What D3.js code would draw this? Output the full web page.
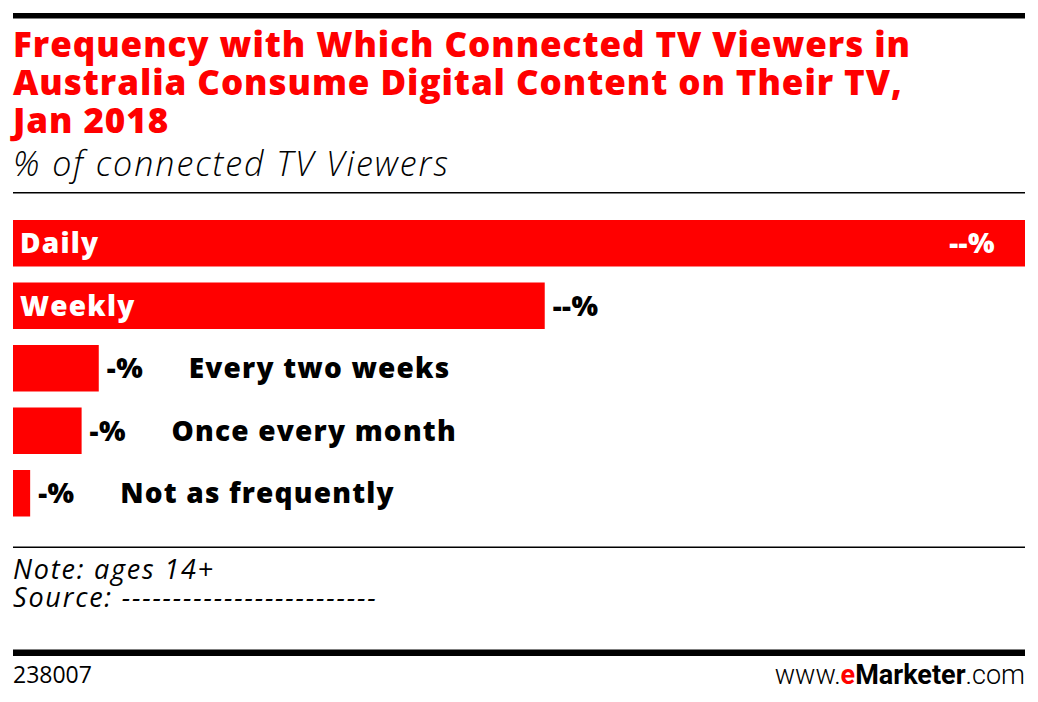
<!DOCTYPE html>
<html>
<head>
<meta charset="utf-8">
<script src="https://cdn.jsdelivr.net/npm/d3@7"></script>
<style>
  html, body { margin: 0; padding: 0; background: #fff; }
  svg { display: block; }
</style>
</head>
<body>
<script>
const titleLines = [
  "Frequency with Which Connected TV Viewers in",
  "Australia Consume Digital Content on Their TV,",
  "Jan 2018"
];
const subtitle = "% of connected TV Viewers";
const categories = ["Daily", "Weekly", "Every two weeks", "Once every month", "Not as frequently"];
const values = [59, 31, 5, 4, 1];
const valueLabels = ["--%", "--%", "-%", "-%", "-%"];
const noteText = "Note: ages 14+";
const sourceText = "Source: -------------------------";
const chartId = "238007";

const W = 1038, H = 702;
const L = 13, R = 1025;
const red = "#ff0000";

// letter spacing that makes the given texts span the wanted total width
function spacingFor(nodes, target) {
  let w = 0, gaps = 0;
  nodes.forEach(n => { w += n.getComputedTextLength(); gaps += n.textContent.length - 1; });
  return (target - w) / gaps;
}

const svg = d3.select("body").append("svg").attr("width", W).attr("height", H);

// top rule
svg.append("rect").attr("x", L).attr("y", 13).attr("width", R - L).attr("height", 5.5).attr("fill", "#000");

// title
const font = "'Open Sans', sans-serif";
const title = svg.append("g").attr("font-family", font).attr("font-weight", 800)
  .attr("font-size", 35).attr("fill", red);
const tl = title.selectAll("text").data(titleLines).join("text")
  .attr("x", L).attr("y", (d, i) => 57 + i * 38.2).text(d => d);
title.attr("letter-spacing", spacingFor([tl.nodes()[0]], 897));

const sub = svg.append("text").attr("x", L).attr("y", 175.5)
  .attr("font-family", font).attr("font-weight", 300).attr("font-style", "italic")
  .attr("font-size", 34).attr("fill", "#000").text(subtitle);
sub.attr("letter-spacing", spacingFor([sub.node()], 435));

svg.append("rect").attr("x", L).attr("y", 192).attr("width", R - L).attr("height", 1.5).attr("fill", "#000");

// bars
const x = d3.scaleLinear().domain([0, d3.max(values)]).range([L, R]);
const y = d3.scaleBand().domain(categories).range([220, 516.5]).paddingInner(0.256).paddingOuter(0);

const data = categories.map((c, i) => ({ c, v: values[i], lab: valueLabels[i], i }));
const g = svg.append("g");
g.selectAll("rect.bar").data(data).join("rect").attr("class", "bar")
  .attr("x", x(0)).attr("y", d => y(d.c)).attr("width", d => x(d.v) - x(0)).attr("height", y.bandwidth())
  .attr("fill", red);

const labFont = 28;
const inside = d => x(d.v) - x(0) > 300;
// category labels
const cats = g.append("g").attr("font-family", font).attr("font-weight", 800).attr("font-size", labFont);
const catText = cats.selectAll("text").data(data).join("text")
  .attr("x", d => inside(d) ? x(0) + 7 : x(d.v) + 90)
  .attr("y", d => y(d.c) + y.bandwidth() / 2 + 10)
  .attr("fill", d => inside(d) ? "#fff" : "#000").text(d => d.c);
cats.attr("letter-spacing", spacingFor(catText.nodes().slice(2), 818));
// value labels
const vals = g.append("g").attr("font-family", font).attr("font-weight", 800).attr("font-size", labFont)
  .attr("letter-spacing", 0.5);
vals.selectAll("text").data(data).join("text")
  .attr("x", d => d.i === 0 ? x(d.v) - 30 : x(d.v) + 8)
  .attr("text-anchor", d => d.i === 0 ? "end" : "start")
  .attr("y", d => y(d.c) + y.bandwidth() / 2 + 10)
  .attr("fill", d => d.i === 0 ? "#fff" : "#000").text(d => d.lab);

// footer
svg.append("rect").attr("x", L).attr("y", 546.5).attr("width", R - L).attr("height", 1.5).attr("fill", "#000");
const foot = svg.append("g").attr("font-family", font).attr("font-weight", 400)
  .attr("font-style", "italic").attr("font-size", 27).attr("fill", "#000");
const note = foot.append("text").attr("x", L).attr("y", 579).text(noteText);
foot.append("text").attr("x", L).attr("y", 607).text(sourceText);
foot.attr("letter-spacing", spacingFor([note.node()], 200));

svg.append("rect").attr("x", L).attr("y", 649.5).attr("width", R - L).attr("height", 6.5).attr("fill", "#000");
svg.append("text").attr("x", L).attr("y", 683).attr("font-family", font).attr("font-weight", 400)
  .attr("font-size", 23).attr("fill", "#000").text(chartId);

const logo = svg.append("text").attr("x", R).attr("y", 684).attr("text-anchor", "end")
  .attr("font-family", "Roboto, sans-serif").attr("font-size", 27).attr("fill", "#000");
logo.append("tspan").attr("font-weight", 300).text("www.");
logo.append("tspan").attr("font-weight", 700).attr("fill", red).text("e");
logo.append("tspan").attr("font-weight", 700).text("Marketer");
logo.append("tspan").attr("font-weight", 300).text(".com");
</script>
</body>
</html>
